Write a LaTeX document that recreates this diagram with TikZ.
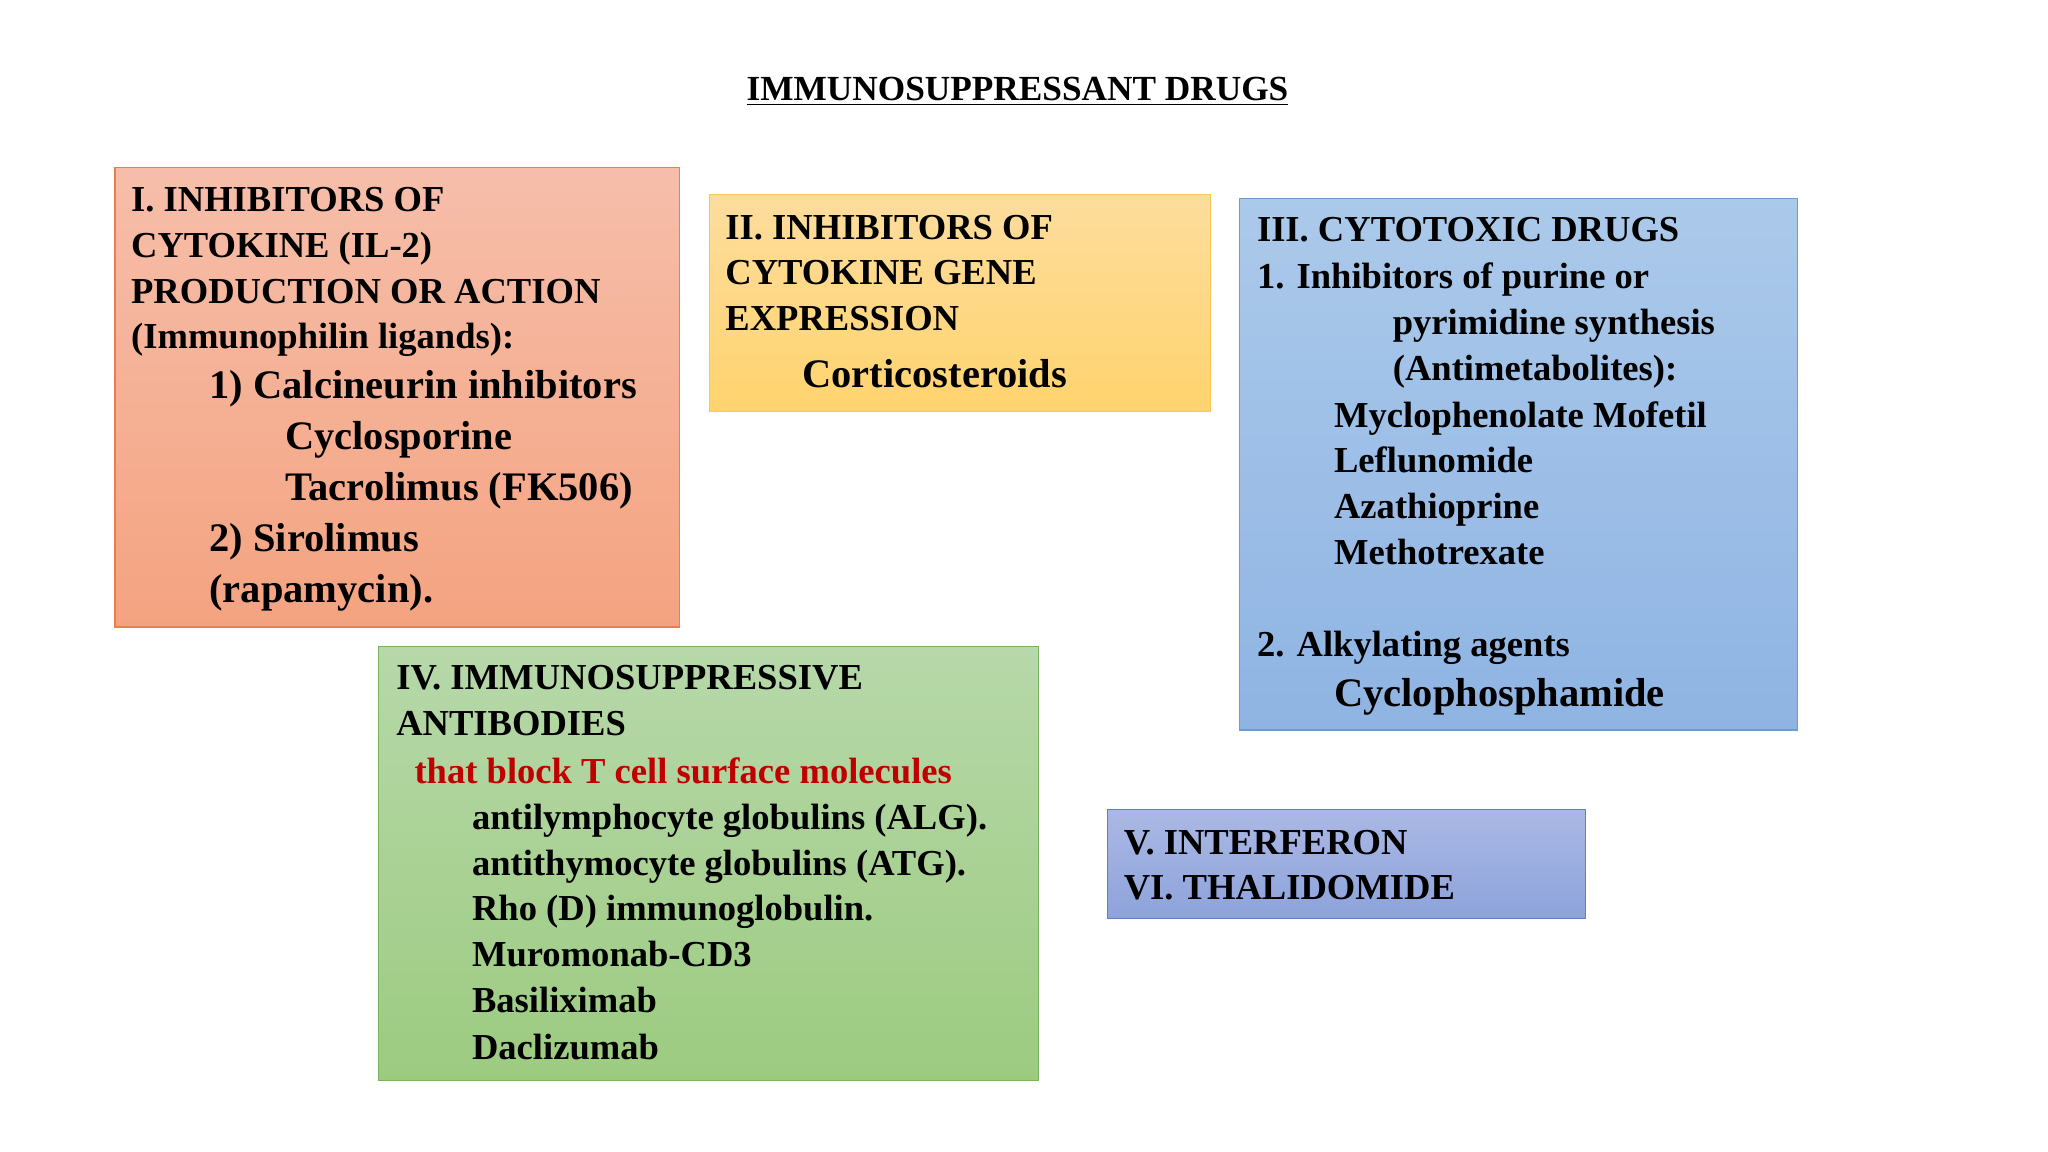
\documentclass[tikz,border=0pt]{standalone}
\usepackage{fontspec}
\setmainfont{Liberation Serif}
\definecolor{redt}{HTML}{C00000}
\begin{document}
\begin{tikzpicture}[x=0.5pt,y=-0.5pt,
  t/.style={anchor=base west,inner sep=0pt,font=\fontsize{14}{16}\selectfont\bfseries},
  tl/.style={anchor=base west,inner sep=0pt,font=\fontsize{15.5}{18}\selectfont\bfseries},
  bx/.style={line width=0.5pt}]
\useasboundingbox (0,0) rectangle (1568,882);
\fill[white] (0,0) rectangle (1568,882);
\node[anchor=base,inner sep=0pt,font=\fontsize{13.5}{16}\selectfont\bfseries] (title) at (779,77) {\underline{IMMUNOSUPPRESSANT DRUGS}};
% boxes
\shade[top color={rgb,255:red,246;green,190;blue,170},bottom color={rgb,255:red,244;green,163;blue,128}] (88,128) rectangle (520,480);
\draw[bx,draw={rgb,255:red,237;green,125;blue,80}] (88,128) rectangle (520,480);
\shade[top color={rgb,255:red,253;green,221;blue,158},bottom color={rgb,255:red,255;green,211;blue,110}] (543,149) rectangle (927,315);
\draw[bx,draw={rgb,255:red,250;green,200;blue,80}] (543,149) rectangle (927,315);
\shade[top color={rgb,255:red,171;green,201;blue,234},bottom color={rgb,255:red,143;green,180;blue,227}] (949,152) rectangle (1376,559);
\draw[bx,draw={rgb,255:red,110;green,155;blue,215}] (949,152) rectangle (1376,559);
\shade[top color={rgb,255:red,183;green,216;blue,170},bottom color={rgb,255:red,156;green,203;blue,128}] (290,495) rectangle (795,827);
\draw[bx,draw={rgb,255:red,120;green,180;blue,95}] (290,495) rectangle (795,827);
\shade[top color={rgb,255:red,171;green,184;blue,228},bottom color={rgb,255:red,141;green,163;blue,219}] (848,620) rectangle (1214,703);
\draw[bx,draw={rgb,255:red,100;green,125;blue,200}] (848,620) rectangle (1214,703);
% box 1
\node[t] (a1) at (100,162) {I. INHIBITORS OF};
\node[t] (a2) at (100,197) {CYTOKINE (IL-2)};
\node[t] (a3) at (100,232) {PRODUCTION OR ACTION};
\node[t] (a4) at (100,267) {(Immunophilin ligands):};
\node[tl] (a5) at (160,305) {1) Calcineurin inhibitors};
\node[tl] (a6) at (218,344) {Cyclosporine};
\node[tl] (a7) at (218,383) {Tacrolimus (FK506)};
\node[tl] (a8) at (160,422) {2) Sirolimus};
\node[tl] (a9) at (160,461) {(rapamycin).};
% box 2
\node[t] (b1) at (555,183) {II. INHIBITORS OF};
\node[t] (b2) at (555,218) {CYTOKINE GENE};
\node[t] (b3) at (555,253) {EXPRESSION};
\node[tl] (b4) at (614,297) {Corticosteroids};
% box 3
\node[t] (c1) at (962,185) {III. CYTOTOXIC DRUGS};
\node[t] (c2) at (962,221) {1. Inhibitors of purine or};
\node[t] (c3) at (1066,256) {pyrimidine synthesis};
\node[t] (c4) at (1066,291) {(Antimetabolites):};
\node[t] (c5) at (1021,327) {Myclophenolate Mofetil};
\node[t] (c6) at (1021,362) {Leflunomide};
\node[t] (c7) at (1021,397) {Azathioprine};
\node[t] (c8) at (1021,432) {Methotrexate};
\node[t] (c9) at (962,503) {2. Alkylating agents};
\node[tl] (c10) at (1021,541) {Cyclophosphamide};
% box 4
\node[t] (d1) at (303,528) {IV. IMMUNOSUPPRESSIVE};
\node[t] (d2) at (303,563) {ANTIBODIES};
\node[t,text=redt] (d3) at (317,600) {that block T cell surface molecules};
\node[t] (d4) at (361,635) {antilymphocyte globulins (ALG).};
\node[t] (d5) at (361,670) {antithymocyte globulins (ATG).};
\node[t] (d6) at (361,705) {Rho (D) immunoglobulin.};
\node[t] (d7) at (361,740) {Muromonab-CD3};
\node[t] (d8) at (361,775) {Basiliximab};
\node[t] (d9) at (361,811) {Daclizumab};
% box 5
\node[t] (e1) at (860,654) {V. INTERFERON};
\node[t] (e2) at (860,689) {VI. THALIDOMIDE};
\end{tikzpicture}
\end{document}
